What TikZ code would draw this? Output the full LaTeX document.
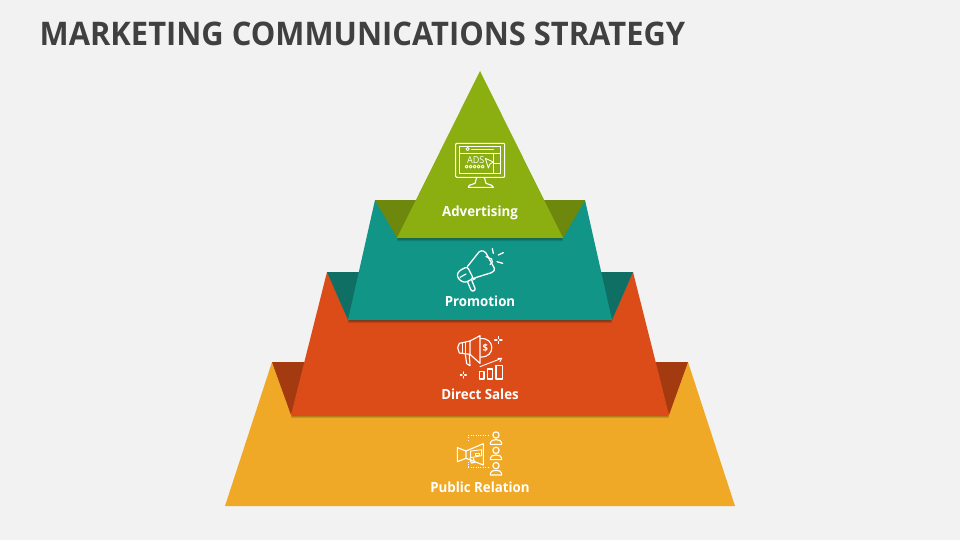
\documentclass[tikz,border=0pt]{standalone}
\usepackage{fontspec}
\setmainfont{Open Sans}[FakeStretch=0.95]
\definecolor{bgc}{HTML}{F2F2F2}
\definecolor{yel}{HTML}{EFA926}
\definecolor{redc}{HTML}{DC4C18}
\definecolor{tea}{HTML}{109587}
\definecolor{gre}{HTML}{8BAE10}
\definecolor{redd}{HTML}{A33A10}
\definecolor{tead}{HTML}{0F6F65}
\definecolor{gred}{HTML}{6E880E}
\definecolor{titlec}{HTML}{404040}
\tikzset{
  lab/.style={text=white,font=\bfseries\fontsize{14}{16}\selectfont,inner sep=0pt,anchor=base},
  ico/.style={draw=white,line width=1.15pt,line join=round,line cap=round},
  thin ico/.style={ico,line width=.85pt},
  dot/.style={draw=white,line width=1pt,dash pattern=on 1pt off 1.4pt},
  zoomed/.style={x=0.3333pt,y=-0.3333pt}
}
\newcommand{\sdw}[1]{%
  \foreach \o in {1,2,3,4}{\fill[black,opacity=0.10,shift={(0,\o*0.8)}] #1;}}
\begin{document}
\begin{tikzpicture}[x=1pt,y=-1pt]
\useasboundingbox (0,0) rectangle (960,540);
\fill[bgc] (0,0) rectangle (960,540);
\node[anchor=base west,inner sep=0pt,text=titlec,font=\bfseries\fontsize{32.5}{36}\selectfont] (title) at (39.5,46) {MARKETING COMMUNICATIONS STRATEGY};
% yellow
\fill[yel] (272,362) -- (688,362) -- (735,506) -- (225,506) -- cycle;
\sdw{(291,415) -- (669,415) -- (665,405) -- (295,405) -- cycle}
\fill[redd] (272,362) -- (310,362) -- (291,415) -- cycle;
\fill[redd] (688,362) -- (650,362) -- (669,415) -- cycle;
\fill[redc] (327,272) -- (633,272) -- (669,415) -- (291,415) -- cycle;
\sdw{(348,320) -- (612,320) -- (608,310) -- (352,310) -- cycle}
\fill[tead] (327,272) -- (365,272) -- (348,320) -- cycle;
\fill[tead] (633,272) -- (595,272) -- (612,320) -- cycle;
\fill[tea] (375,200) -- (585,200) -- (612,320) -- (348,320) -- cycle;
\sdw{(397,238) -- (563,238) -- (558,228) -- (402,228) -- cycle}
\fill[gred] (375,200) -- (422,200) -- (397,238) -- cycle;
\fill[gred] (585,200) -- (538,200) -- (563,238) -- cycle;
\fill[gre] (480,71) -- (563,238) -- (397,238) -- cycle;
% labels
\node[lab] (l1) at (480,216) {Advertising};
\node[lab] (l2) at (480,306) {Promotion};
\node[lab] (l3) at (480,399) {Direct Sales};
\node[lab] (l4) at (480,492) {Public Relation};
% icon: advertising
\begin{scope}[shift={(430,130)},zoomed]
\draw[ico,rounded corners=1pt] (77,40) rectangle (224,142);
\draw[thin ico] (88,50) rectangle (212,130);
\draw[thin ico] (88,70) -- (212,70);
\draw[thin ico] (113,57) circle (5);
\draw[thin ico] (125,58) -- (190,58);
\draw[thin ico] (190,70) -- (190,130) (190,100) -- (212,100);
\draw[ico] (140,142) -- (135,160) -- (118,166) -- (115,172) -- (190,172) -- (185,166) -- (168,160) -- (163,142);
\node[text=white,inner sep=0pt,font=\fontsize{9.5}{9.5}\selectfont] (ads) at (137,90) {ADS};
\foreach \a in {110,122,134,146,158}{\draw[thin ico] (\a,110) circle (4.5);}
\draw[thin ico,fill=gre] (166,85) -- (190,96) -- (180,102) -- (175,114) -- cycle;
\end{scope}
% icon: promotion
\begin{scope}[shift={(430,240)},zoomed]
\draw[ico,line width=1.3pt,rounded corners=1.5pt] (112,80) -- (150,32) -- (165,34) -- (195,88) -- (188,97) -- (130,115);
\draw[ico,line width=1.3pt,rounded corners=2.5pt] (112,80) -- (88,92) -- (80,106) -- (90,122) -- (106,128) -- (130,115) -- cycle;
\draw[ico] (90,112) -- (108,102);
\draw[ico,line width=1.3pt,rounded corners=2pt] (112,124) -- (125,155) -- (137,150) -- (124,118);
\draw[ico] (128,120) -- (136,116);
\draw[ico] (168,50) -- (185,57) -- (187,66) -- (180,74);
\draw[ico,line width=1.3pt] (187,26) -- (190,40) (205,45) -- (220,38) (201,65) -- (218,70);
\end{scope}
% icon: direct sales
\begin{scope}[shift={(430,325)},zoomed]
\draw[ico] (120,48) -- (150,32) -- (150,115) -- (120,88) -- cycle;
\draw[ico] (120,48) -- (88,55) -- (83,68) -- (88,84) -- (120,88);
\draw[ico] (97,55) -- (97,84) (107,52) -- (107,86);
\draw[ico] (106,88) -- (110,116) -- (120,122) -- (118,90);
\draw[ico] (152,41) .. controls (195,36) and (198,98) .. (152,96);
\node[text=white,inner sep=0pt,font=\bfseries\fontsize{10}{10}\selectfont] (usd) at (166,69) {\$};
\draw[ico] (205,34) -- (205,41) (205,49) -- (205,56) (194,45) -- (201,45) (209,45) -- (216,45);
\draw[ico] (100,141) -- (100,146) (100,154) -- (100,159) (91,150) -- (96,150) (104,150) -- (109,150);
\draw[thin ico] (150,125) -- (215,100);
\draw[thin ico] (204,100) -- (215,100) -- (210,110);
\draw[ico] (148,140) rectangle (162,162);
\draw[ico] (172,132) rectangle (188,162);
\draw[ico] (198,122) rectangle (218,162);
\end{scope}
% icon: public relation
\begin{scope}[shift={(430,425)},zoomed]
\draw[ico] (82,68) -- (108,78) -- (108,100) -- (82,110) -- cycle;
\draw[ico] (108,78) -- (160,56) -- (160,120) -- (108,100);
\draw[thin ico] (122,78) -- (155,74) -- (155,92) -- (122,98) -- cycle;
\draw[thin ico] (137,84) rectangle (147,90);
\draw[ico] (120,100) -- (124,114) -- (134,112) -- (130,100);
\draw[dot] (115,30) -- (175,30) (115,30) -- (115,50);
\draw[dot] (115,128) -- (175,128) (115,110) -- (115,128);
\foreach \a in {0,46,92}{
  \draw[ico] (198,30+\a) circle (9.5);
  \draw[ico] (181,58+\a) -- (181,53+\a) .. controls (181,41+\a) and (215,41+\a) .. (215,53+\a) -- (215,58+\a) -- cycle;
}
\end{scope}
\end{tikzpicture}
\end{document}
